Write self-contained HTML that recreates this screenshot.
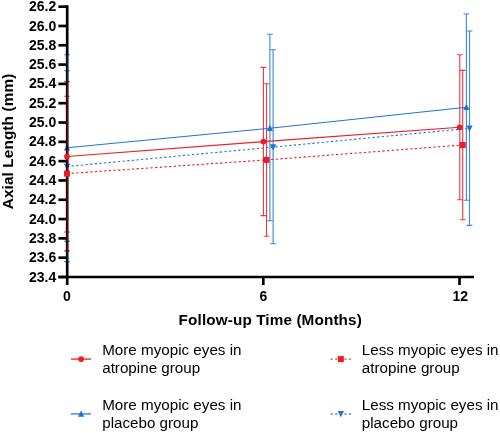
<!DOCTYPE html><html><head><meta charset="utf-8"><title>Axial Length</title>
<style>html,body{margin:0;padding:0;background:#fff}svg{display:block}text{font-family:"Liberation Sans",sans-serif;fill:#000}.b{font-weight:bold}</style></head><body>
<svg width="500" height="433" viewBox="0 0 500 433">
<rect width="500" height="433" fill="#fff"/>
<path d="M67.0 70.7V261.6M64.10 70.7H69.90M64.10 261.6H69.90" stroke="#3f88dc" stroke-width="1.12" fill="none"/>
<path d="M273.1 49.8V243.8M270.20 49.8H276.00M270.20 243.8H276.00" stroke="#3f88dc" stroke-width="1.12" fill="none"/>
<path d="M469.5 31.0V225.4M466.60 31.0H472.40M466.60 225.4H472.40" stroke="#3f88dc" stroke-width="1.12" fill="none"/>
<path d="M67.0 54.7V241.4M64.10 54.7H69.90M64.10 241.4H69.90" stroke="#3f88dc" stroke-width="1.12" fill="none"/>
<path d="M269.9 34.2V220.8M267.00 34.2H272.80M267.00 220.8H272.80" stroke="#3f88dc" stroke-width="1.12" fill="none"/>
<path d="M466.4 14.0V200.2M463.50 14.0H469.30M463.50 200.2H469.30" stroke="#3f88dc" stroke-width="1.12" fill="none"/>
<path d="M67.0 96.3V250.9M64.10 96.3H69.90M64.10 250.9H69.90" stroke="#f2383f" stroke-width="1.12" fill="none"/>
<path d="M266.5 83.8V236.2M263.60 83.8H269.40M263.60 236.2H269.40" stroke="#f2383f" stroke-width="1.12" fill="none"/>
<path d="M462.7 70.4V219.7M459.80 70.4H465.60M459.80 219.7H465.60" stroke="#f2383f" stroke-width="1.12" fill="none"/>
<path d="M67.0 81.6V232.0M64.10 81.6H69.90M64.10 232.0H69.90" stroke="#f2383f" stroke-width="1.12" fill="none"/>
<path d="M263.4 67.4V215.6M260.50 67.4H266.30M260.50 215.6H266.30" stroke="#f2383f" stroke-width="1.12" fill="none"/>
<path d="M459.8 54.7V199.8M456.90 54.7H462.70M456.90 199.8H462.70" stroke="#f2383f" stroke-width="1.12" fill="none"/>
<path d="M67.0 166.5 L273.1 147.1 L469.5 128.3" stroke="#1f74d6" stroke-width="1.12" fill="none" stroke-dasharray="2.25 2.4"/>
<path d="M67.0 147.8 L269.9 128.25 L466.4 107.2" stroke="#1f74d6" stroke-width="1.12" fill="none"/>
<path d="M67.0 173.6 L266.5 159.9 L462.7 145.0" stroke="#ee1c25" stroke-width="1.12" fill="none" stroke-dasharray="2.25 2.4"/>
<path d="M67.0 156.5 L263.4 141.6 L459.8 127.3" stroke="#ee1c25" stroke-width="1.12" fill="none"/>
<path d="M67.00 169.90L70.15 163.70L63.85 163.70Z" fill="#1f74d6"/>
<path d="M273.10 150.50L276.25 144.30L269.95 144.30Z" fill="#1f74d6"/>
<path d="M469.50 131.70L472.65 125.50L466.35 125.50Z" fill="#1f74d6"/>
<path d="M67.00 144.40L70.15 150.60L63.85 150.60Z" fill="#1f74d6"/>
<path d="M269.90 124.85L273.05 131.05L266.75 131.05Z" fill="#1f74d6"/>
<path d="M466.40 103.80L469.55 110.00L463.25 110.00Z" fill="#1f74d6"/>
<g stroke="#000" stroke-width="2.67" fill="none">
<path d="M67.2 5.33V285.1"/>
<path d="M58.4 277.0H474"/>
<path d="M58.4 277.00H67.2"/>
<path d="M58.4 257.69H67.2"/>
<path d="M58.4 238.38H67.2"/>
<path d="M58.4 219.07H67.2"/>
<path d="M58.4 199.76H67.2"/>
<path d="M58.4 180.45H67.2"/>
<path d="M58.4 161.14H67.2"/>
<path d="M58.4 141.83H67.2"/>
<path d="M58.4 122.52H67.2"/>
<path d="M58.4 103.21H67.2"/>
<path d="M58.4 83.90H67.2"/>
<path d="M58.4 64.59H67.2"/>
<path d="M58.4 45.28H67.2"/>
<path d="M58.4 25.97H67.2"/>
<path d="M58.4 6.66H67.2"/>
<path d="M263.3 277.0V285.1"/>
<path d="M459.5 277.0V285.1"/>
</g>
<path d="M67.4 54.7V81.6M67.4 250.9V261.6" stroke="#1f74d6" stroke-width="1.4" opacity="0.35"/>
<path d="M67.4 81.6V250.9" stroke="#ee1c25" stroke-width="1.4" opacity="0.4"/>
<rect x="64.00" y="170.60" width="6" height="6" fill="#ee1c25"/>
<rect x="263.50" y="156.90" width="6" height="6" fill="#ee1c25"/>
<rect x="459.70" y="142.00" width="6" height="6" fill="#ee1c25"/>
<circle cx="67.0" cy="156.5" r="2.9" fill="#ee1c25"/>
<circle cx="263.4" cy="141.6" r="2.9" fill="#ee1c25"/>
<circle cx="459.8" cy="127.3" r="2.9" fill="#ee1c25"/>
<text class="b" x="56.3" y="281.55" font-size="14" text-anchor="end">23.4</text>
<text class="b" x="56.3" y="262.24" font-size="14" text-anchor="end">23.6</text>
<text class="b" x="56.3" y="242.93" font-size="14" text-anchor="end">23.8</text>
<text class="b" x="56.3" y="223.62" font-size="14" text-anchor="end">24.0</text>
<text class="b" x="56.3" y="204.31" font-size="14" text-anchor="end">24.2</text>
<text class="b" x="56.3" y="185.00" font-size="14" text-anchor="end">24.4</text>
<text class="b" x="56.3" y="165.69" font-size="14" text-anchor="end">24.6</text>
<text class="b" x="56.3" y="146.38" font-size="14" text-anchor="end">24.8</text>
<text class="b" x="56.3" y="127.07" font-size="14" text-anchor="end">25.0</text>
<text class="b" x="56.3" y="107.76" font-size="14" text-anchor="end">25.2</text>
<text class="b" x="56.3" y="88.45" font-size="14" text-anchor="end">25.4</text>
<text class="b" x="56.3" y="69.14" font-size="14" text-anchor="end">25.6</text>
<text class="b" x="56.3" y="49.83" font-size="14" text-anchor="end">25.8</text>
<text class="b" x="56.3" y="30.52" font-size="14" text-anchor="end">26.0</text>
<text class="b" x="56.3" y="11.21" font-size="14" text-anchor="end">26.2</text>
<text class="b" x="66.8" y="300.7" font-size="14" text-anchor="middle">0</text>
<text class="b" x="263.3" y="300.7" font-size="14" text-anchor="middle">6</text>
<text class="b" x="460.3" y="300.7" font-size="14" text-anchor="middle">12</text>
<text class="b" x="270.2" y="324.85" font-size="15.3" textLength="183.2" lengthAdjust="spacing" text-anchor="middle">Follow-up Time (Months)</text>
<text class="b" transform="translate(13.0 141.5) rotate(-90)" font-size="15.3" textLength="135.5" lengthAdjust="spacing" text-anchor="middle">Axial Length (mm)</text>
<path d="M71 359.09999999999997H91" stroke="#f2383f" stroke-width="1.45"/>
<circle cx="81.1" cy="359.09999999999997" r="2.9" fill="#ee1c25"/>
<text x="102.2" y="355.2" font-size="15.2">More myopic eyes in</text>
<text x="102.2" y="372.7" font-size="15.2">atropine group</text>
<path d="M71 413.9H91" stroke="#3f88dc" stroke-width="1.45"/>
<path d="M81.10 410.50L84.25 416.70L77.95 416.70Z" fill="#1f74d6"/>
<text x="102.2" y="410.0" font-size="15.2">More myopic eyes in</text>
<text x="102.2" y="427.5" font-size="15.2">placebo group</text>
<path d="M330.6 359.09999999999997H351.1" stroke="#f2383f" stroke-width="1.45" stroke-dasharray="2.1 2.5"/>
<rect x="337.85" y="356.10" width="6" height="6" fill="#ee1c25"/>
<text x="361.8" y="355.2" font-size="15.2">Less myopic eyes in</text>
<text x="361.8" y="372.7" font-size="15.2">atropine group</text>
<path d="M330.6 413.9H351.1" stroke="#3f88dc" stroke-width="1.45" stroke-dasharray="2.1 2.5"/>
<path d="M340.85 417.30L344.00 411.10L337.70 411.10Z" fill="#1f74d6"/>
<text x="361.8" y="410.0" font-size="15.2">Less myopic eyes in</text>
<text x="361.8" y="427.5" font-size="15.2">placebo group</text>
</svg></body></html>
